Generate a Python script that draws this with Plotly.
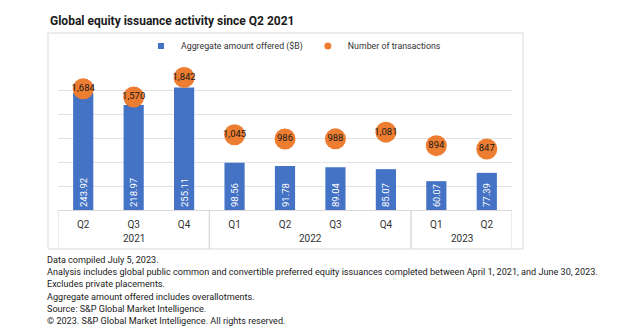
import plotly.graph_objects as go

years = ["2021", "2021", "2021", "2022", "2022", "2022", "2022", "2023", "2023"]
quarters = ["Q2", "Q3", "Q4", "Q1", "Q2", "Q3", "Q4", "Q1", "Q2"]
amount_offered = [243.92, 218.97, 255.11, 98.56, 91.78, 89.04, 85.07, 60.07, 77.39]
transactions = [1684, 1570, 1842, 1045, 986, 988, 1081, 894, 847]

title_text = "Global equity issuance activity since Q2 2021"
footnote_lines = [
    "Data compiled July 5, 2023.",
    "Analysis includes global public common and convertible preferred equity issuances completed between April 1, 2021, and June 30, 2023.",
    "Excludes private placements.",
    "Aggregate amount offered includes overallotments.",
    "Source: S&P Global Market Intelligence.",
    "© 2023. S&P Global Market Intelligence. All rights reserved.",
]

BLUE = "#4472C4"
ORANGE = "#ED7D31"
GRID = "#d9d9d9"
FONT = "Roboto"

W, H = 624, 327
L, R, T, B = 58, 112, 66, 117
pw, ph = W - L - R, H - T - B

def px_x(x):
    return (x - L) / pw

def px_y(y):
    return (H - B - y) / ph

idx = list(range(len(quarters)))

# year groups (derived from data)
groups = []
for i, y in enumerate(years):
    if groups and groups[-1][0] == y:
        groups[-1][2] = i
    else:
        groups.append([y, i, i])

fig = go.Figure()
fig.add_trace(go.Bar(
    x=idx, y=amount_offered,
    name="Aggregate amount offered ($B)", showlegend=False,
    marker=dict(color=BLUE, line=dict(width=0)),
    text=[f"{v:.2f}" for v in amount_offered],
    textposition="inside", insidetextanchor="start", textangle=-90,
    textfont=dict(color="white", size=9.5, family=FONT),
    width=0.4,
))
fig.add_trace(go.Scatter(
    x=idx, y=transactions,
    name="Number of transactions", yaxis="y2", showlegend=False,
    mode="markers+text",
    marker=dict(color=ORANGE, size=21, line=dict(width=0)),
    text=[f"{v:,}" for v in transactions],
    textposition="middle center",
    textfont=dict(color="#1a1a1a", size=9.5, family=FONT),
))
# legend entries
fig.add_trace(go.Scatter(
    x=[None], y=[None], mode="markers", name="Aggregate amount offered ($B)",
    marker=dict(color=BLUE, size=6, symbol="square"), showlegend=True,
))
fig.add_trace(go.Scatter(
    x=[None], y=[None], mode="markers", name="Number of transactions",
    marker=dict(color=ORANGE, size=7, symbol="circle"), showlegend=True,
))

annotations = [
    dict(text="<b>" + title_text + "</b>", xref="paper", yref="paper",
         x=px_x(48), y=px_y(21), xanchor="left", yanchor="middle", showarrow=False,
         font=dict(size=12, color="#1a1a1a", family=FONT)),
]
for i, line in enumerate(footnote_lines):
    annotations.append(dict(
        text=line, xref="paper", yref="paper",
        x=px_x(45), y=px_y(260 + 12.2 * i), xanchor="left", yanchor="middle", align="left",
        showarrow=False, font=dict(size=9.1, color="#1a1a1a", family=FONT)))

shapes = [dict(type="rect", xref="paper", yref="paper",
               x0=px_x(48), x1=px_x(523), y0=px_y(249), y1=px_y(33),
               line=dict(color=GRID, width=1), fillcolor="rgba(0,0,0,0)", layer="below")]

for yname, a, b in groups:
    annotations.append(dict(
        text=yname, xref="x", yref="paper", x=(a + b) / 2, y=px_y(238),
        xanchor="center", yanchor="middle", showarrow=False,
        font=dict(size=10, color="#333333", family=FONT)))
    for edge in (a - 0.5, b + 0.5):
        shapes.append(dict(type="line", xref="x", yref="paper", x0=edge, x1=edge,
                           y0=0, y1=px_y(249), line=dict(color=GRID, width=1)))

fig.update_layout(
    width=W, height=H,
    margin=dict(l=L, r=R, t=T, b=B),
    paper_bgcolor="white", plot_bgcolor="white",
    font=dict(family=FONT, color="#333333", size=10),
    showlegend=True,
    legend=dict(orientation="h", x=px_x(141), xanchor="left", y=px_y(46), yanchor="middle",
                font=dict(size=8.8, color="#333333"), itemsizing="trace",
                bgcolor="rgba(0,0,0,0)", traceorder="normal", itemwidth=30),
    xaxis=dict(range=[-0.5, len(idx) - 0.5], tickmode="array", tickvals=idx, ticktext=quarters,
               showline=True, linecolor=GRID, linewidth=1, showgrid=False, zeroline=False,
               tickfont=dict(size=10, color="#333333"), ticks="", ticklabelstandoff=5),
    yaxis=dict(range=[0, 300], dtick=50, showticklabels=False, showgrid=True,
               gridcolor="#e3e3e3", gridwidth=1, zeroline=False),
    yaxis2=dict(range=[0, 2000], overlaying="y", side="right", showticklabels=False,
                showgrid=False, zeroline=False),
    shapes=shapes,
    annotations=annotations,
)

fig.write_html("out.html")
